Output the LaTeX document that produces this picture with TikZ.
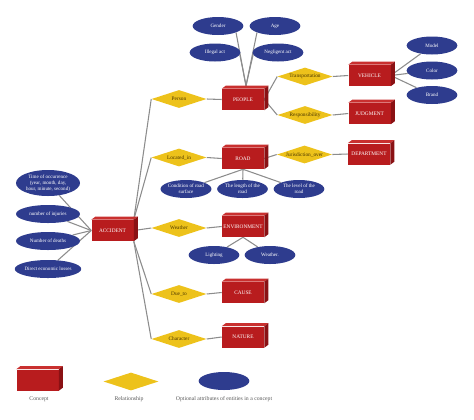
\documentclass[tikz,border=0pt]{standalone}
\usepackage{fontspec}
\setmainfont{Liberation Serif}
\usetikzlibrary{shapes.geometric,backgrounds}
\definecolor{cfront}{HTML}{B81C1E}
\definecolor{ctop}{HTML}{C9302F}
\definecolor{cside}{HTML}{8A1114}
\definecolor{cyel}{HTML}{EDC21B}
\definecolor{cblue}{HTML}{2E3C8E}
\definecolor{clink}{HTML}{8C8C8C}
\definecolor{cdtext}{HTML}{4A3600}
\tikzset{
  concept/.style={rectangle, fill=cfront, text=white, minimum width=31.5pt, minimum height=15.75pt, inner sep=0pt, font=\fontsize{4}{5}\selectfont},
  relation/.style={diamond, aspect=3, fill=cyel, text=cdtext, minimum width=41.25pt, minimum height=13.5pt, inner sep=0pt, font=\fontsize{4}{5}\selectfont},
  attr/.style={ellipse, fill=cblue, text=white, minimum width=38pt, minimum height=13.5pt, inner sep=0pt, align=center, font=\fontsize{3.8}{4.4}\selectfont},
  wattr/.style={attr, minimum width=48pt},
  link/.style={draw=clink, line width=0.8pt},
  legtext/.style={text=black!65, font=\fontsize{4.3}{5}\selectfont}
}
\newcommand{\cbox}[3]{%
  \node[concept] (#1) at (#2) {#3};
  \fill[ctop] (#1.north west) -- ++(4,-3) -- ([shift={(4,-3)}]#1.north east) -- (#1.north east) -- cycle;
  \fill[cside] (#1.north east) -- ++(4,-3) -- ([shift={(4,-3)}]#1.south east) -- (#1.south east) -- cycle;
}
\begin{document}
\begin{tikzpicture}[x=0.75pt,y=-0.75pt]
\useasboundingbox (0,0) rectangle (474,419);

% concepts
\cbox{acc}{112.5,230.5}{ACCIDENT}
\cbox{people}{243,99.5}{PEOPLE}
\cbox{vehicle}{369.5,75.5}{VEHICLE}
\cbox{judg}{369.5,113.5}{JUDGMENT}
\cbox{dept}{369,154}{DEPARTMENT}
\cbox{road}{243,158.5}{ROAD}
\cbox{env}{243,226.5}{ENVIRONMENT}
\cbox{cause}{243,292.5}{CAUSE}
\cbox{nature}{243,337}{NATURE}

% relations
\node[relation] (person) at (179,99) {Person};
\node[relation] (trans) at (305,76.5) {Transportation};
\node[relation] (resp) at (305,115) {Responsibility};
\node[relation] (loc) at (179,157.5) {Located\_in};
\node[relation] (juris) at (304.5,154.5) {Jurisdiction\_over};
\node[relation] (weather) at (179,228) {Weather};
\node[relation] (dueto) at (179,294) {Due\_to};
\node[relation] (charac) at (179,339) {Character};

% attributes
\node[attr] (gender) at (218,26) {Gender};
\node[attr] (age) at (275,26) {Age};
\node[attr] (illegal) at (215,52.5) {Illegal act};
\node[attr] (neglig) at (278,52.5) {Negligent act};
\node[attr] (model) at (432,45.5) {Model};
\node[attr] (color) at (432,70.5) {Color};
\node[attr] (brand) at (432,95) {Brand};
\node[attr] (cond) at (186,189) {Condition of road\\surface};
\node[attr] (length) at (242.5,189) {The length of the\\road};
\node[attr] (level) at (299,189) {The level of the\\road};
\node[attr] (light) at (214,255) {Lighting};
\node[attr] (weath) at (270,255) {Weather.};
\node[wattr, minimum height=19.5pt, inner xsep=-5pt, inner ysep=-1.5pt] (time) at (48,183) {Time of occurrence\\(year, month, day,\\hour, minute, second)};
\node[wattr] (inj) at (48,214) {number of injuries};
\node[wattr] (death) at (48,241) {Number of deaths};
\node[wattr] (loss) at (48,269) {Direct economic losses};

% legend
\cbox{legc}{37.5,380}{}
\node[relation] (legr) at (131,381.5) {};
\node[attr] (lega) at (224,381) {};
\node[legtext] (legct) at (39,399) {Concept};
\node[legtext] (legrt) at (129,399) {Relationship};
\node[legtext] (legat) at (224,399) {Optional attributes of entities in a concept};

% connectors
\begin{scope}[on background layer]
\draw[link] (acc.north east) -- (person.west);
\draw[link] (acc.north east) -- (loc.west);
\draw[link] (acc.east) -- (weather.west);
\draw[link] (acc.south east) -- (dueto.west);
\draw[link] (acc.south east) -- (charac.west);
\draw[link] (time) -- (acc.west);
\draw[link] (inj) -- (acc.west);
\draw[link] (death) -- (acc.west);
\draw[link] (loss) -- (acc.west);
\draw[link] (person.east) -- (people.west);
\draw[link] (loc.east) -- (road.west);
\draw[link] (weather.east) -- (env.west);
\draw[link] (dueto.east) -- (cause.west);
\draw[link] (charac.east) -- (nature.west);
\draw[link] ([shift={(3,-3)}]people.north) -- (gender.-20);
\draw[link] ([shift={(3,-3)}]people.north) -- (age.-160);
\draw[link] ([shift={(3,-3)}]people.north) -- (illegal.-5);
\draw[link] ([shift={(3,-3)}]people.north) -- (neglig.-175);
\draw[link] (people.east) -- (trans.west);
\draw[link] (people.east) -- (resp.west);
\draw[link] (trans.east) -- (vehicle.west);
\draw[link] (resp.east) -- (judg.west);
\draw[link] (vehicle.east) -- (model);
\draw[link] (vehicle.east) -- (color);
\draw[link] (vehicle.east) -- (brand);
\draw[link] (road.east) -- (juris.west);
\draw[link] (juris.east) -- (dept.west);
\draw[link] (road.south) -- (cond);
\draw[link] (road.south) -- (length);
\draw[link] (road.south) -- (level);
\draw[link] (env.south) -- (light);
\draw[link] (env.south) -- (weath);
\end{scope}
\end{tikzpicture}
\end{document}
